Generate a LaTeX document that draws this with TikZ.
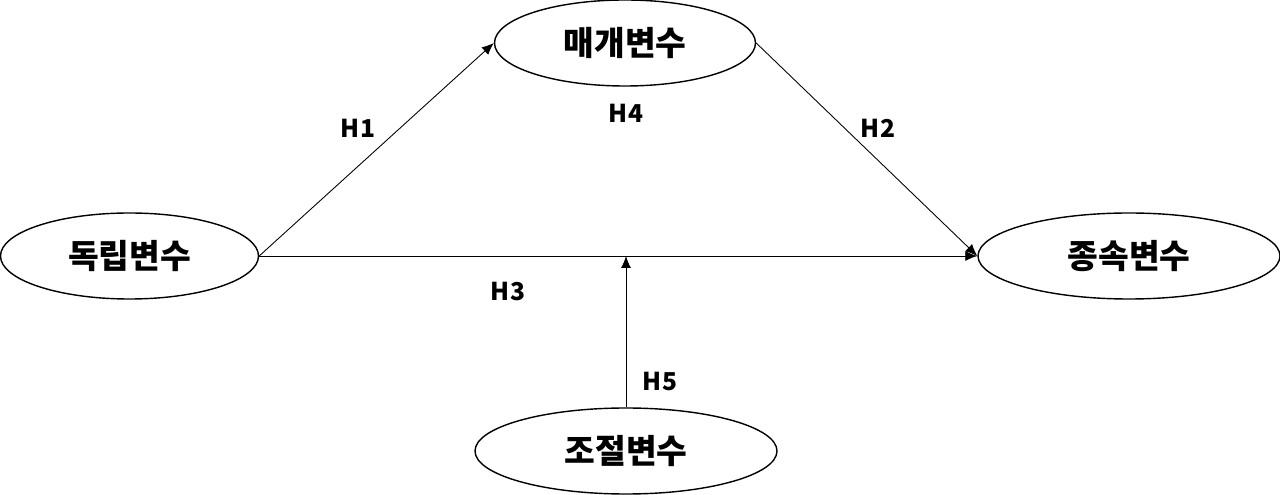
\documentclass[tikz,border=0pt]{standalone}
\usepackage{fontspec}
\setmainfont{Noto Sans CJK KR}
\usetikzlibrary{shapes.geometric,arrows.meta}

\begin{document}
\begin{tikzpicture}[
  var/.style={draw,ellipse,line width=0.8pt,inner sep=0pt,minimum height=1.72cm,font=\fontsize{19}{22}\selectfont\bfseries},
  hyp/.style={font=\fontsize{14}{17}\selectfont\bfseries},
  arr/.style={-{Latex[length=0.24cm,width=0.2cm]},line width=0.5pt}]
\useasboundingbox (0,0) rectangle (25.6,9.9);

\node[var,minimum width=5.16cm] (indep) at (2.59,4.78) {독립변수};
\node[var,minimum width=5.22cm] (med) at (12.5,9.04) {매개변수};
\node[var,minimum width=6.04cm] (dep) at (22.58,4.78) {종속변수};
\node[var,minimum width=6.04cm] (mod) at (12.52,0.88) {조절변수};

\coordinate (hit) at (mod.north |- indep.east);
\draw[arr] (indep.east) -- (med.west);
\draw[arr] (med.east) -- (dep.west);
\draw[arr] (indep.east) -- (dep.west);
\draw[arr] (mod.north) -- (hit);

\node[hyp] (h1) at (7.16,7.34) {H1};
\node[hyp] (h4) at (12.52,7.64) {H4};
\node[hyp] (h2) at (17.56,7.34) {H2};
\node[hyp] (h3) at (10.16,4.06) {H3};
\node[hyp] (h5) at (13.2,2.26) {H5};
\end{tikzpicture}
\end{document}
